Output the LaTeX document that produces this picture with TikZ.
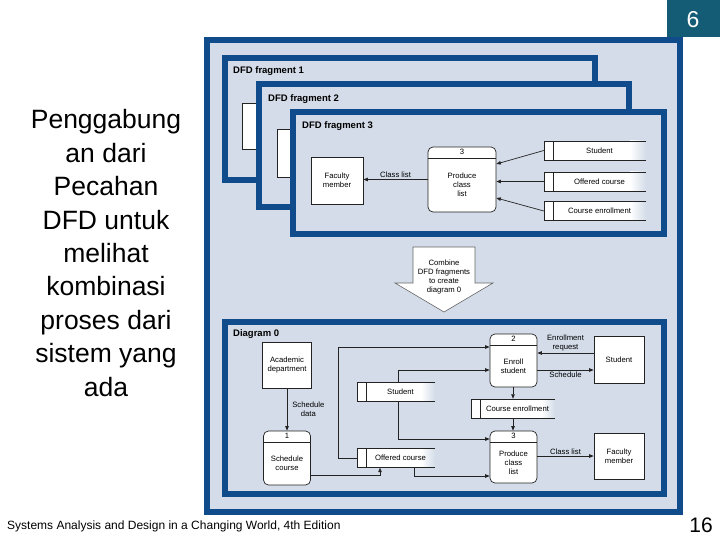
\documentclass[tikz,border=0pt]{standalone}
\usepackage{fontspec}
\setmainfont{Liberation Sans}
\usetikzlibrary{arrows.meta,positioning,calc}

\definecolor{frameblue}{RGB}{16,75,140}
\definecolor{bgc}{RGB}{211,220,232}
\definecolor{tealbox}{RGB}{20,92,118}
\definecolor{lnc}{RGB}{35,35,35}

\newcommand\dfdfont{\fontsize{7.7}{9}\selectfont}
\newcommand\ttlfont{\fontsize{9.5}{11}\selectfont\bfseries}

\begin{document}
\begin{tikzpicture}[x=1pt,y=-1pt]
\tikzset{
  frame/.style ={draw=frameblue, line width=6pt, fill=bgc},
  ttl/.style   ={font=\ttlfont, anchor=west, inner sep=0pt},
  ent/.style   ={draw=lnc, fill=white, line width=0.7pt, align=center, font=\dfdfont, inner sep=1pt},
  proc/.style  ={draw=lnc, fill=white, line width=0.7pt, rounded corners=5pt,
                 path picture={\draw[lnc,line width=0.7pt]
                   ([yshift=-11pt]path picture bounding box.north west) --
                   ([yshift=-11pt]path picture bounding box.north east);}},
  ptxt/.style  ={align=center, font=\dfdfont, inner sep=0pt},
  stxt/.style  ={font=\dfdfont, inner sep=1pt, minimum height=19pt},
  lbl/.style   ={align=center, font=\dfdfont, inner sep=0pt},
  ln/.style    ={draw=lnc, line width=0.7pt},
  arr/.style   ={draw=lnc, line width=0.7pt, -{Triangle[length=4.5pt,width=3.5pt]}}
}
\useasboundingbox (0,0) rectangle (720,540);
\fill[white] (0,0) rectangle (720,540);

% slide number and left text
\fill[tealbox] (667,0) rectangle (720,37);
\node[text=white, font=\fontsize{23}{26}\selectfont] (num) at (693,20) {6};
\node[align=center, font=\fontsize{26.5}{33.4}\selectfont] (side) at (106,253)
  {Penggabung\\an dari\\Pecahan\\DFD untuk\\melihat\\kombinasi\\proses dari\\sistem yang\\ada};
\node[anchor=west, inner sep=0pt, font=\fontsize{12}{14}\selectfont] (foot) at (7,526)
  {Systems Analysis and Design in a Changing World, 4th Edition};
\node[font=\fontsize{21}{24}\selectfont, inner sep=0pt] (page) at (701,525) {16};

% outer frame and fragments
\draw[frame] (207,40) rectangle (680,512);
\draw[frame] (225,58) rectangle (595,180);
\node[ent, minimum width=58pt, minimum height=46pt] (ent1) at (271,126) {};
\node[ttl] (t1) at (233,71) {DFD fragment 1};
\draw[frame] (259,84) rectangle (629,207);
\node[ent, minimum width=58pt, minimum height=48pt] (ent2) at (306,153) {};
\node[ttl] (t2) at (268,99) {DFD fragment 2};
\draw[frame] (293,112) rectangle (664,234);
\node[ttl] (t3) at (302,126) {DFD fragment 3};

% fragment 3
\node[ent, minimum width=52pt, minimum height=47pt] (fac3) at (337,180.5) {Faculty\\member};
\node[proc, minimum width=68pt, minimum height=65pt] (pc3) at (462,179.5) {};
\node[ptxt] (pc3n) at ([yshift=-5.5pt]pc3.north) {3};
\node[ptxt] (pc3t) at ([yshift=-5.5pt]pc3.center) {Produce\\class\\list};

% data stores of fragment 3
\foreach \nm/\cx/\cy/\w/\txt in {sst3/595/150.5/102/Student, soc3/595/181.5/102/Offered course,
    sce3/595/211/102/Course enrollment}{
  \fill[white] (\cx-\w/2,\cy-9.5) rectangle (\cx+\w/2-16,\cy+9.5);
  \shade[left color=white, right color=bgc] (\cx+\w/2-16,\cy-9.5) rectangle (\cx+\w/2,\cy+9.5);
  \draw[ln] (\cx+\w/2,\cy-9.5) -- (\cx-\w/2,\cy-9.5) -- (\cx-\w/2,\cy+9.5) -- (\cx+\w/2,\cy+9.5);
  \draw[ln] (\cx-\w/2+9,\cy-9.5) -- (\cx-\w/2+9,\cy+9.5);
  \node[stxt, minimum width=\w pt] (\nm) at (\cx,\cy) {\hspace*{9pt}\txt};
}

\draw[arr] (pc3.west) -- (pc3.west -| fac3.east) node[lbl, midway, above=1.5pt] (lcl3) {Class list};
\draw[arr] (sst3.west) -- ([yshift=15.5pt]pc3.east);
\draw[arr] (soc3.west) -- (soc3.west -| pc3.east);
\draw[arr] (sce3.west) -- ([yshift=-18.5pt]pc3.east);

% combine arrow
\draw[draw=lnc!70, fill=white, line width=0.6pt] (413,247) -- (475,247) -- (475,283) -- (493,283)
  -- (444,312) -- (395,283) -- (413,283) -- cycle;
\node[lbl, font=\fontsize{7.7}{9.3}\selectfont] (comb) at (444,277) {Combine\\DFD fragments\\to create\\diagram 0};

% diagram 0
\draw[frame] (225,322) rectangle (664,494);
\node[ttl] (t0) at (233,334) {Diagram 0};
\foreach \nm/\cx/\cy/\w/\txt in {sst0/396/392/78/Student, soc0/396/458/78/Offered course,
    sce0/513/408.5/84/Course enrollment}{
  \fill[white] (\cx-\w/2,\cy-9.5) rectangle (\cx+\w/2-14,\cy+9.5);
  \shade[left color=white, right color=bgc] (\cx+\w/2-14,\cy-9.5) rectangle (\cx+\w/2,\cy+9.5);
  \draw[ln] (\cx+\w/2,\cy-9.5) -- (\cx-\w/2,\cy-9.5) -- (\cx-\w/2,\cy+9.5) -- (\cx+\w/2,\cy+9.5);
  \draw[ln] (\cx-\w/2+9,\cy-9.5) -- (\cx-\w/2+9,\cy+9.5);
  \node[stxt, minimum width=\w pt] (\nm) at (\cx,\cy) {\hspace*{9pt}\txt};
}
\node[ent, minimum width=49pt, minimum height=46pt] (acad) at (287,365) {Academic\\department};
\node[proc, minimum width=47pt, minimum height=54pt] (pc1) at (287,458) {};
\node[ptxt] (pc1n) at ([yshift=-5.5pt]pc1.north) {1};
\node[ptxt] (pc1t) at ([yshift=-5.5pt]pc1.center) {Schedule\\course};
\node[proc, minimum width=47pt, minimum height=53pt] (pc2) at (513.5,360.5) {};
\node[ptxt] (pc2n) at ([yshift=-5.5pt]pc2.north) {2};
\node[ptxt] (pc2t) at ([yshift=-5.5pt]pc2.center) {Enroll\\student};
\node[proc, minimum width=47pt, minimum height=52pt] (pd3) at (513.5,457) {};
\node[ptxt] (pd3n) at ([yshift=-5.5pt]pd3.north) {3};
\node[ptxt] (pd3t) at ([yshift=-5.5pt]pd3.center) {Produce\\class\\list};
\node[ent, minimum width=50pt, minimum height=47pt] (stu0) at (619,359.5) {Student};
\node[ent, minimum width=50pt, minimum height=46pt] (fac0) at (619,456) {Faculty\\member};

\draw[arr] (acad.south) -- (acad.south |- pc1.north) node[lbl, midway, right=5pt] (lsd) {Schedule\\data};
\draw[arr] ([yshift=6.5pt]stu0.west) -- ([yshift=6.5pt]stu0.west -| pc2.east)
  node[lbl, midway, above=1.5pt] (lenr) {Enrollment\\request};
\draw[arr] ([yshift=-9.5pt]pc2.east) -- ([yshift=-9.5pt]pc2.east -| stu0.west)
  node[lbl, midway, below=2pt] (lsch) {Schedule};
\draw[arr] (pd3.east |- fac0.center) -- (fac0.west) node[lbl, midway, above=1.5pt] (lcl0) {Class list};
\draw[arr] (pc2.south -| sce0.north) -- (sce0.north);
\draw[arr] (sce0.south) -- (sce0.south |- pd3.north);
\draw[arr] (soc0.west) -- ++(-18,0) |- ([yshift=13.5pt]pc2.west);
\draw[arr] ([xshift=2pt]sst0.north) |- ([yshift=-9.5pt]pc2.west);
\draw[arr] ([xshift=2pt]sst0.south) |- ([yshift=18pt]pd3.west);
\draw[arr] ([yshift=-17pt]pc1.east) -| ([xshift=-16pt]soc0.south);
\draw[arr] ([xshift=18pt]soc0.south) |- ([yshift=-19pt]pd3.west);
\end{tikzpicture}
\end{document}
